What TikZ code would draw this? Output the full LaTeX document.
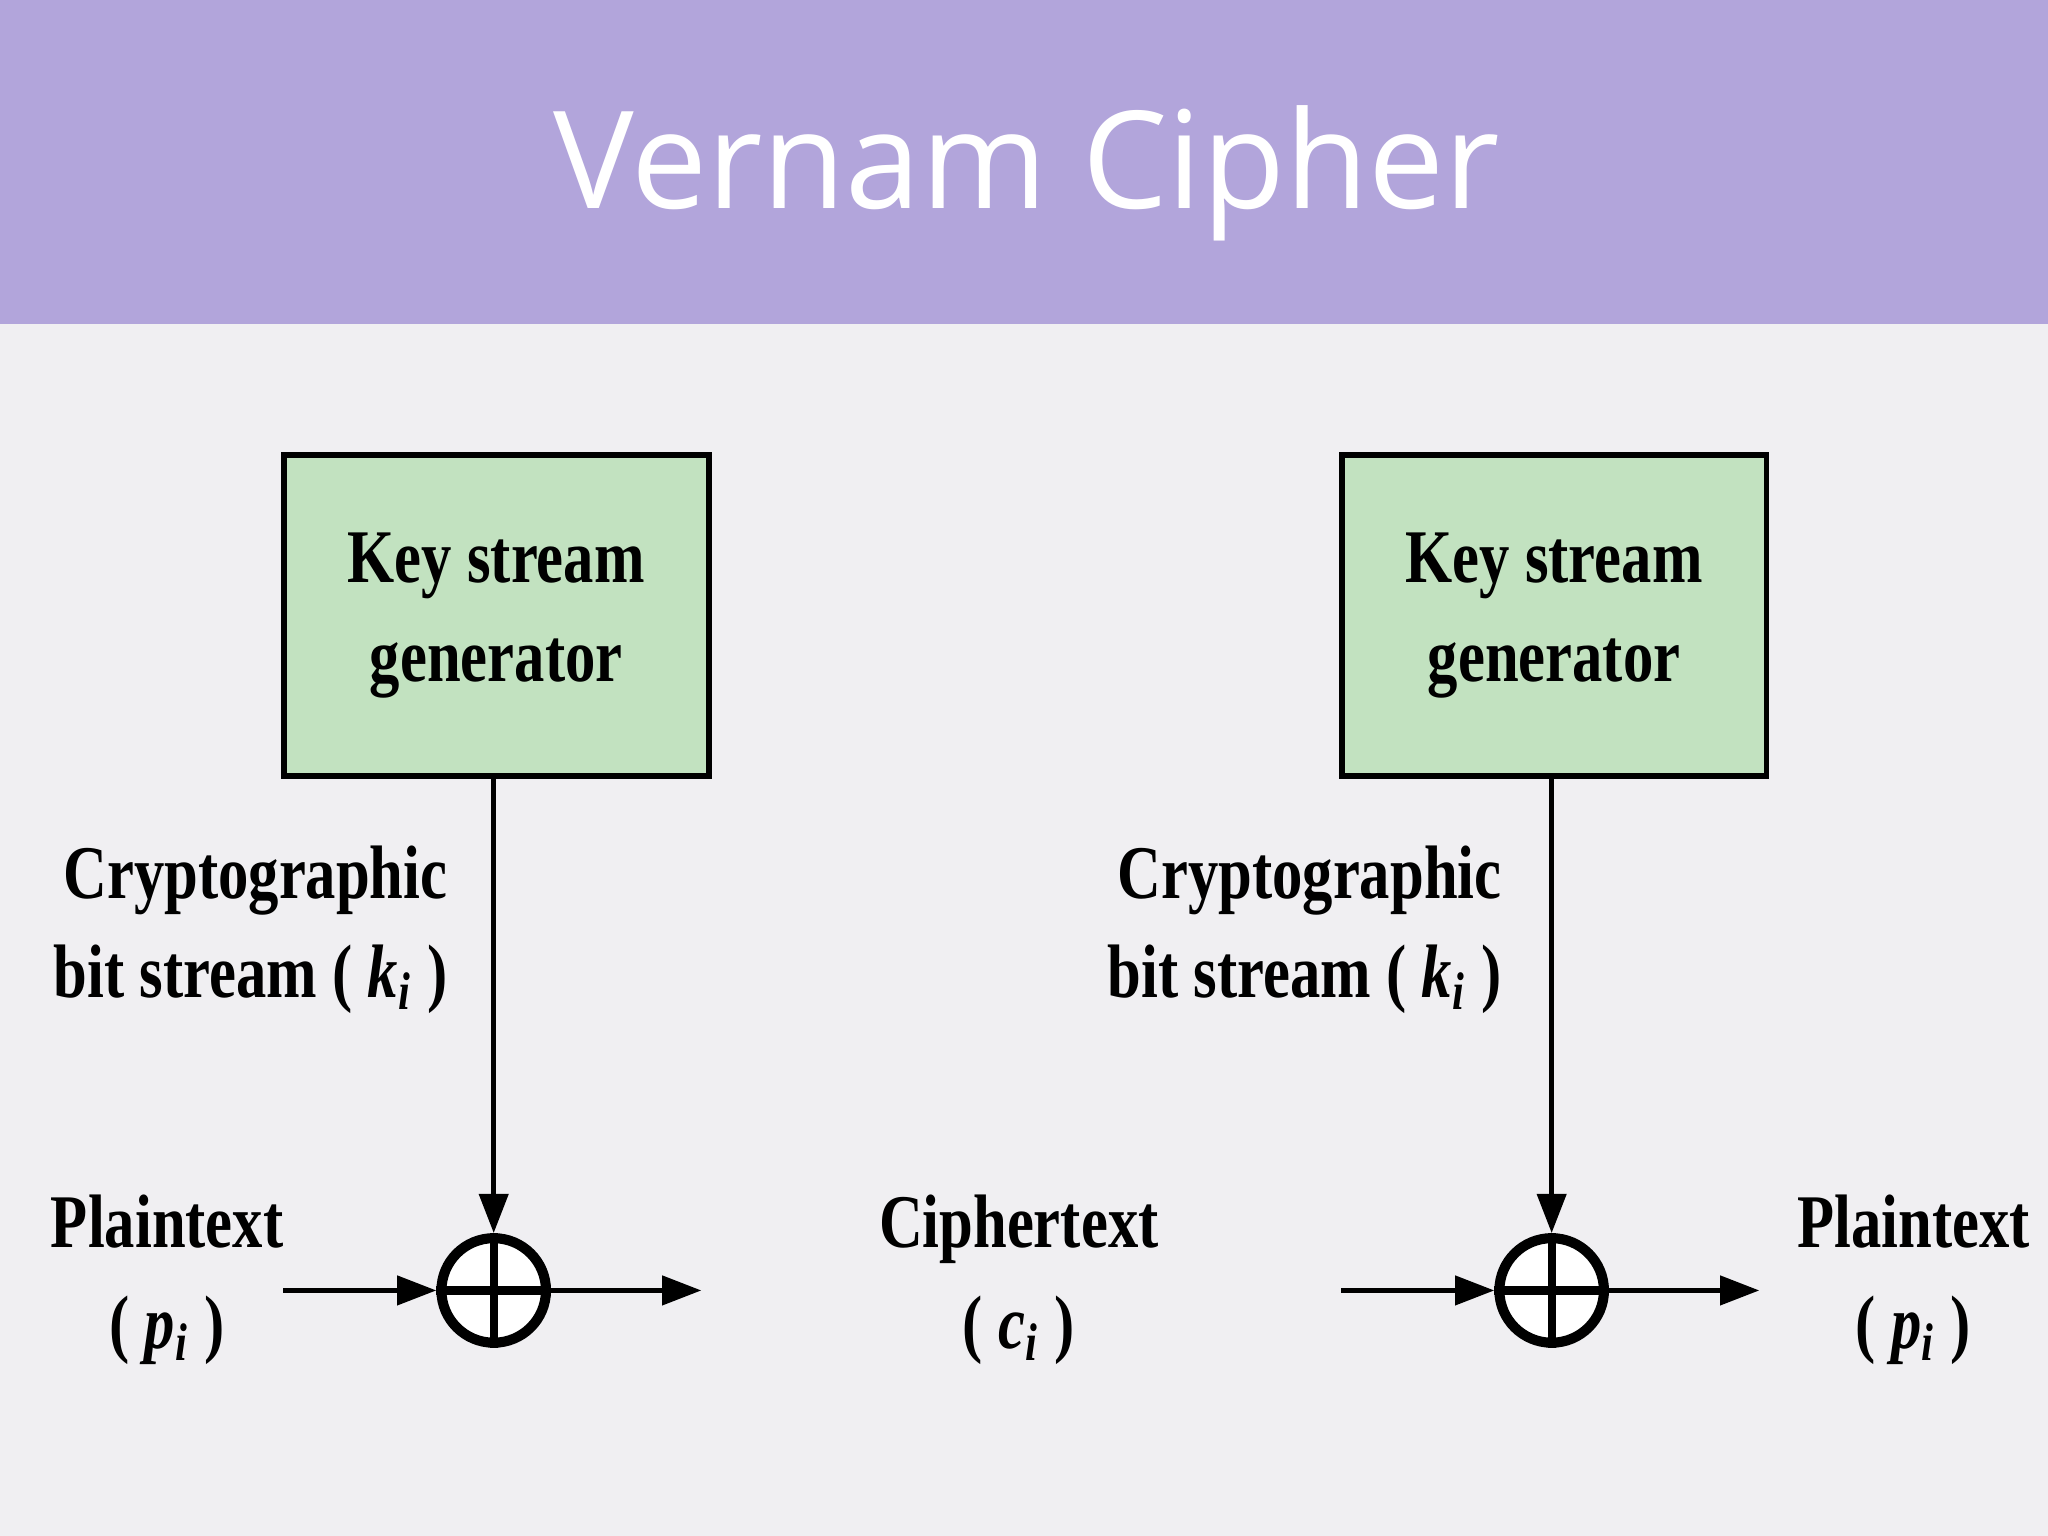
\documentclass[tikz,border=0pt]{standalone}
\usepackage{fontspec}
\setmainfont{Liberation Serif}
\newfontfamily\tb{Liberation Serif}[FakeStretch=0.8,UprightFont=* Bold,ItalicFont=* Bold Italic]
\newfontfamily\ttl{Open Sans}
\usetikzlibrary{arrows.meta}
\definecolor{bg}{HTML}{F0EFF2}
\definecolor{band}{HTML}{B2A5DB}
\definecolor{boxg}{HTML}{C2E2C0}
\newcommand{\ivar}[2]{{\itshape #1\textsubscript{#2}}}
\begin{document}
\begin{tikzpicture}[x=0.01cm,y=-0.01cm,
  box/.style={draw=black,line width=1.3pt,fill=boxg,minimum width=3.25cm,minimum height=2.46cm,anchor=north west,align=center,font=\tb\fontsize{16.5}{21}\selectfont},
  lbl/.style={font=\tb\fontsize{16.5}{22}\selectfont,align=center},
  xo/.style={circle,draw=black,line width=2.2pt,fill=white,minimum size=0.8cm,inner sep=0pt},
  arr/.style={line width=1.1pt,-{Triangle[length=0.3cm,width=0.22cm]}}]
\fill[bg] (0,0) rectangle (1568,1176);
\fill[band] (0,0) rectangle (1568,248);
\node[font=\ttl\fontsize{29.5}{36}\selectfont,text=white] (title) at (786,133) {Vernam Cipher};
% left
\node[box] (k1) at (215,346) {Key stream\\[0.5pt]generator};
\node[xo] (x1) at (378,988) {};
\draw[line width=1.8pt] (x1.north)--(x1.south);
\draw[line width=1.8pt] (x1.west)--(x1.east);
\draw[arr] (k1.south -| x1) -- (x1.north);
\node[lbl,anchor=east] (c1) at (355,674) {Cryptographic};
\node[lbl,anchor=east] (b1) at (355,750) {bit stream ( \ivar{k}{i} )};
\node[lbl] (p1) at (128,980) {Plaintext\\( \ivar{p}{i} )};
\coordinate (s1) at (217,988);
\coordinate (e1) at (537,988);
\draw[arr] (s1) -- (x1.west);
\draw[arr] (x1.east) -- (e1);
\node[lbl] (ct) at (780,980) {Ciphertext\\( \ivar{c}{i} )};
% right
\node[box] (k2) at (1025,346) {Key stream\\[0.5pt]generator};
\node[xo] (x2) at (1188,988) {};
\draw[line width=1.8pt] (x2.north)--(x2.south);
\draw[line width=1.8pt] (x2.west)--(x2.east);
\draw[arr] (k2.south -| x2) -- (x2.north);
\node[lbl,anchor=east] (c2) at (1162,674) {Cryptographic};
\node[lbl,anchor=east] (b2) at (1162,750) {bit stream ( \ivar{k}{i} )};
\node[lbl] (p2) at (1465,980) {Plaintext\\( \ivar{p}{i} )};
\coordinate (s2) at (1027,988);
\coordinate (e2) at (1347,988);
\draw[arr] (s2) -- (x2.west);
\draw[arr] (x2.east) -- (e2);
\end{tikzpicture}
\end{document}
